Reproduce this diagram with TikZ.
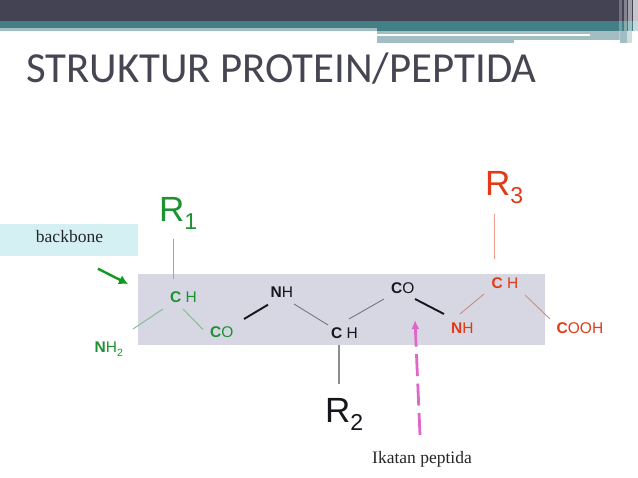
\documentclass[tikz,border=0pt]{standalone}
\usepackage{fontspec}
\usetikzlibrary{arrows.meta}
\setmainfont{Liberation Sans}
\newfontfamily\titlefont{Carlito}
\newfontfamily\serifcap{Liberation Serif}
\definecolor{darkbar}{HTML}{434354}
\definecolor{tealbar}{HTML}{427F86}
\definecolor{lightbar}{HTML}{A2BEC2}
\definecolor{titlec}{HTML}{464653}
\definecolor{bandc}{HTML}{D7D7E3}
\definecolor{capbox}{HTML}{D5F0F3}
\definecolor{gr}{HTML}{1E9132}
\definecolor{grarrow}{HTML}{0F9A1E}
\definecolor{grl}{HTML}{7FB98A}
\definecolor{rd}{HTML}{E23A17}
\definecolor{rdl}{HTML}{C98F80}
\definecolor{rdv}{HTML}{EDA08E}
\definecolor{bk}{HTML}{16161C}
\definecolor{bkl}{HTML}{77777F}
\definecolor{pk}{HTML}{DE68C8}
\tikzset{
  lab/.style={inner sep=0pt,font=\fontsize{15.5}{17}\selectfont,anchor=base west},
  rlab/.style={inner sep=0pt,font=\fontsize{35}{40}\selectfont,anchor=base west},
  caplab/.style={inner sep=0pt,font=\serifcap\fontsize{17.5}{20}\selectfont,text=black!85,anchor=base},
  thin bond/.style={line width=0.9pt},
  bold bond/.style={line width=1.9pt,color=bk},
}
\newcommand{\bC}[1]{\textbf{#1}}
\newcommand{\bigsub}[1]{\raisebox{-8pt}{\fontsize{23}{25}\selectfont #1}}
\newcommand{\smallsub}[1]{\raisebox{-4pt}{\fontsize{10.5}{12}\selectfont #1}}
\begin{document}
\begin{tikzpicture}[x=1pt,y=-1pt]
\useasboundingbox (0,0) rectangle (638,478);
\fill[white] (0,0) rectangle (638,478);
% header
\fill[lightbar] (0,28) rectangle (377,31);
\fill[lightbar] (377,31) rectangle (620,40);
\fill[lightbar] (377,37.5) rectangle (514,43);
\fill[white] (377,34.5) rectangle (590,36.5);
\fill[tealbar] (0,21) rectangle (377,28);
\fill[tealbar] (377,21) rectangle (638,31);
\fill[darkbar] (0,0) rectangle (638,21.5);
\fill[white,opacity=.25] (619,0) rectangle (622,40);
\fill[white,opacity=.35] (624,0) rectangle (627,40);
\fill[white,opacity=.5] (628,0) rectangle (632,40);
\fill[white,opacity=.7] (633,0) rectangle (638,40);
\fill[lightbar] (620,31) rectangle (632,43);
\fill[white,opacity=.5] (627,31) rectangle (638,43);
% title
\node[inner sep=0pt,anchor=base west,text=titlec,font=\titlefont\fontsize{42.8}{46}\selectfont] (title) at (26,82.5) {STRUKTUR PROTEIN/PEPTIDA};
% band and caption
\fill[bandc] (138,274) rectangle (545,345);
\node[fill=capbox,minimum width=138pt,minimum height=32pt,inner sep=0pt,anchor=north west] (capb) at (0,224) {};
\node[caplab] (backbone) at (69.5,242.7) {backbone};
\node[caplab] (ikatan) at (422,464) {Ikatan peptida};
% labels
\node[rlab,text=gr] (r1) at (159,222) {R\bigsub{1}};
\node[rlab,text=bk] (r2) at (325,423) {R\bigsub{2}};
\node[rlab,text=rd] (r3) at (485,196) {R\bigsub{3}};
\node[lab,text=gr] (ch1) at (170,303) {\bC{C} H};
\node[lab,text=gr] (co1) at (210,338) {\bC{C}O};
\node[lab,text=gr] (nh2) at (94.5,353) {\bC{N}H\smallsub{2}};
\node[lab,text=bk] (nh1) at (270.5,298) {\bC{N}H};
\node[lab,text=bk] (ch2) at (331,338.3) {\bC{C} H};
\node[lab,text=bk] (co2) at (391,293.3) {\bC{C}O};
\node[lab,text=rd] (nh3) at (451,333.3) {\bC{N}H};
\node[lab,text=rd] (ch3) at (491.5,288.3) {\bC{C} H};
\node[lab,text=rd] (cooh) at (556.5,333.3) {\bC{C}OOH};
% bond end points
\coordinate (a1) at (173,239); \coordinate (a2) at (173,279);
\coordinate (b1) at (163,309); \coordinate (b2) at (133,329);
\coordinate (c1) at (183,309); \coordinate (c2) at (203,329.5);
\coordinate (d1) at (244,319); \coordinate (d2) at (268,304.7);
\coordinate (e1) at (294,304); \coordinate (e2) at (328,325);
\coordinate (f1) at (349,319); \coordinate (f2) at (384,299);
\coordinate (g1) at (415,299); \coordinate (g2) at (444,314);
\coordinate (h1) at (460,314); \coordinate (h2) at (484,294);
\coordinate (i1) at (525,295); \coordinate (i2) at (550,319);
\coordinate (j1) at (494.5,214); \coordinate (j2) at (494.5,259);
\coordinate (k1) at (339,345); \coordinate (k2) at (339,384);
\coordinate (m1) at (98,268.7); \coordinate (m2) at (128,284);
\coordinate (p1) at (420,435); \coordinate (p2) at (415,320);
% bonds
\draw[thin bond,grl] (a1) -- (a2);
\draw[thin bond,grl] (b1) -- (b2);
\draw[thin bond,grl] (c1) -- (c2);
\draw[bold bond] (d1) -- (d2);
\draw[thin bond,bkl] (e1) -- (e2);
\draw[thin bond,bkl] (f1) -- (f2);
\draw[bold bond] (g1) -- (g2);
\draw[thin bond,rdl] (h1) -- (h2);
\draw[thin bond,rdl] (i1) -- (i2);
\draw[thin bond,rdv] (j1) -- (j2);
\draw[line width=1.2pt,color=black!45] (k1) -- (k2);
% arrows
\draw[line width=2.4pt,color=grarrow,-{Latex[length=9pt,width=10pt]}] (m1) -- (m2);
\draw[line width=2.8pt,color=pk,dash pattern=on 22pt off 7.5pt,-{Latex[length=9pt,width=8pt]}] (p1) -- (p2);
\end{tikzpicture}
\end{document}
